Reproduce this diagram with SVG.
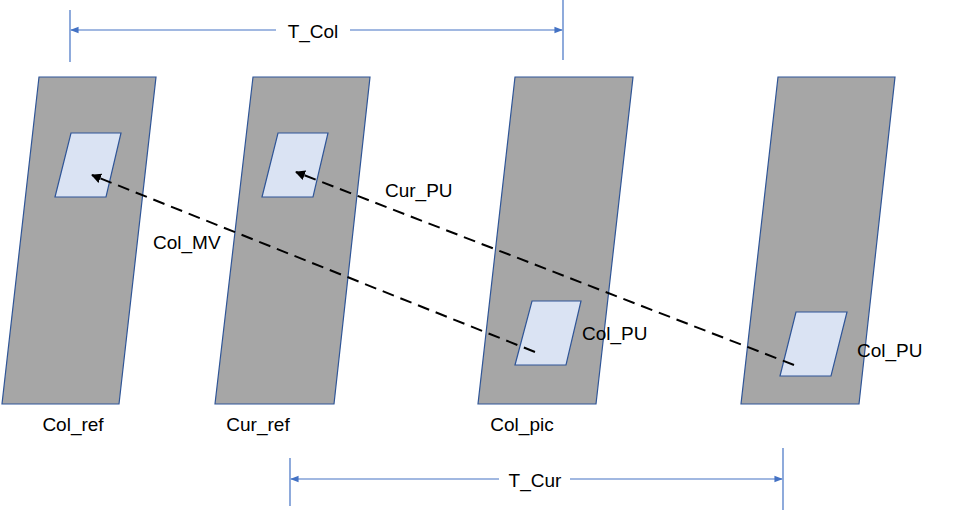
<svg xmlns="http://www.w3.org/2000/svg" width="966" height="510" viewBox="0 0 966 510">
<style>
.pic{fill:#a6a6a6;stroke:#2f5597;stroke-width:1.2}
.pu{fill:#dae3f3;stroke:#2f5597;stroke-width:1.2}
.dim{stroke:#4472c4;stroke-width:1.2;fill:none}
.mv{stroke:#000;stroke-width:2;stroke-dasharray:12 7;fill:none}
text{font-family:"Liberation Sans",Arial,sans-serif;font-size:19px;fill:#000}
</style>
<defs>
<marker id="ba" viewBox="0 0 10 10" refX="9" refY="5" markerWidth="7" markerHeight="7" orient="auto-start-reverse"><path d="M0,1 L10,5 L0,9 z" fill="#4472c4"/></marker>
<marker id="ka" viewBox="0 0 10 10" refX="9" refY="5" markerWidth="5" markerHeight="5" orient="auto"><path d="M0,0 L10,5 L0,10 z" fill="#000"/></marker>
</defs>
<g id="col_ref"><polygon class="pic" points="39,77 156,77 119,404 2,404"/><polygon class="pu" points="71,133 121,133 106,197 55,197"/><text x="73" y="431" text-anchor="middle">Col_ref</text></g>
<g id="cur_ref"><polygon class="pic" points="253,77 370,77 334,404 215,404"/><polygon class="pu" points="278,133 328,133 313,197 262,197"/><text x="258" y="431" text-anchor="middle">Cur_ref</text></g>
<g id="col_pic"><polygon class="pic" points="515,77 633,77 596,404 478,404"/><polygon class="pu" points="532,301 581,301 566,365 515,365"/><text x="522" y="431" text-anchor="middle">Col_pic</text><text x="582" y="340">Col_PU</text></g>
<g id="cur_pic"><polygon class="pic" points="778,77 895,77 859,404 741,404"/><polygon class="pu" points="796,312 847,312 831,376 780,376"/><text x="857" y="357">Col_PU</text></g>
<g id="connectors">
<path class="mv" d="M535,352 L92,175" marker-end="url(#ka)"/>
<path class="mv" d="M794,365 L296,172" marker-end="url(#ka)"/>
<line class="dim" x1="70" y1="10" x2="70" y2="62"/>
<line class="dim" x1="563" y1="0" x2="563" y2="60"/>
<path class="dim" d="M276,30 L71,30" marker-end="url(#ba)"/>
<path class="dim" d="M350,30 L562,30" marker-end="url(#ba)"/>
<line class="dim" x1="290" y1="458" x2="290" y2="506"/>
<line class="dim" x1="783" y1="448" x2="783" y2="510"/>
<path class="dim" d="M499,479 L291,479" marker-end="url(#ba)"/>
<path class="dim" d="M570,479 L782,479" marker-end="url(#ba)"/>
</g>
<text x="313" y="38" text-anchor="middle">T_Col</text>
<text x="535" y="487" text-anchor="middle">T_Cur</text>
<text x="153" y="249">Col_MV</text>
<text x="385" y="197">Cur_PU</text>
</svg>
